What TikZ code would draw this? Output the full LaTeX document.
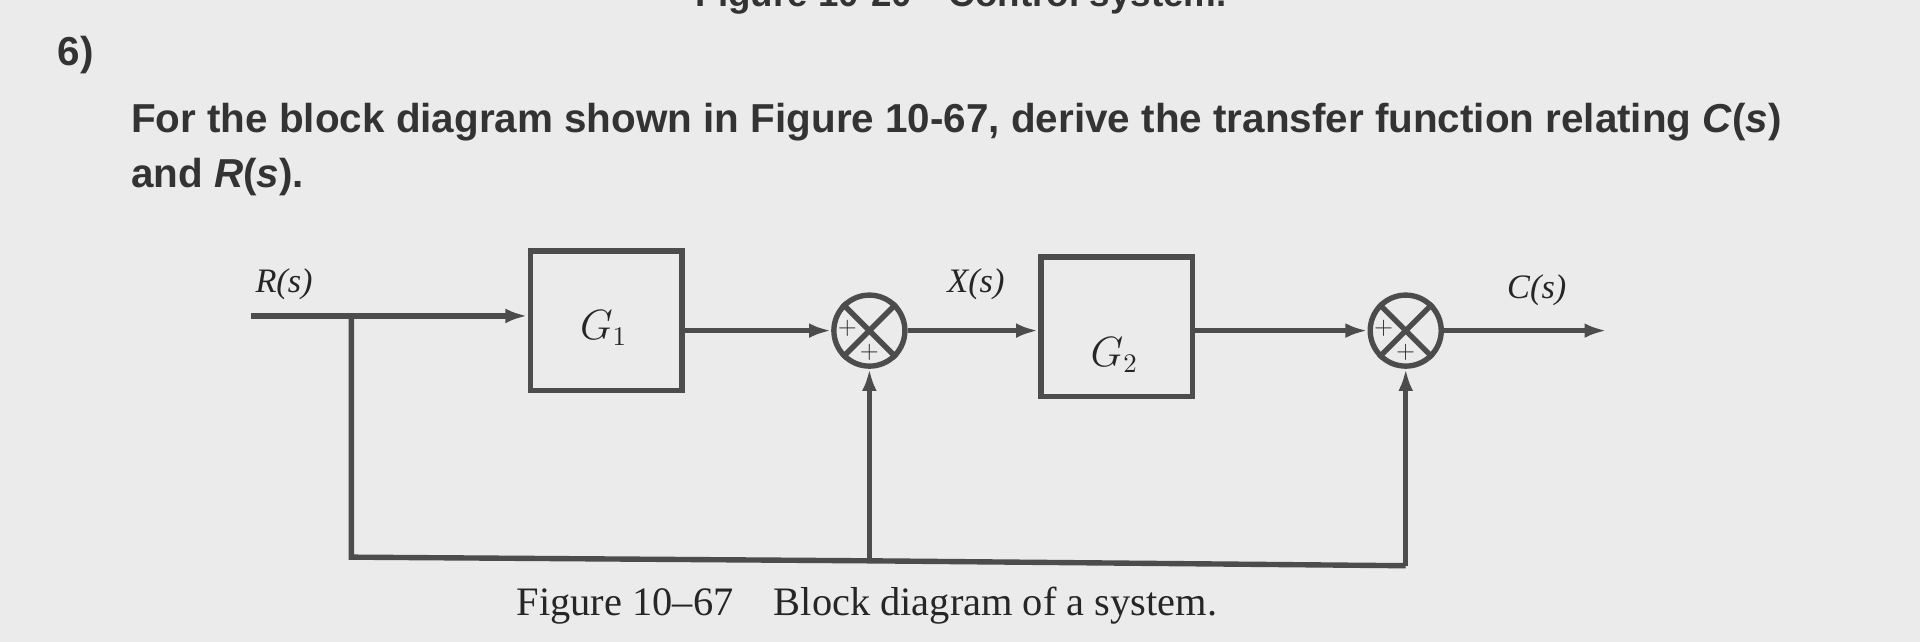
\documentclass[tikz,border=0pt]{standalone}
\usepackage{fontspec}
\setmainfont{Liberation Serif}
\newfontfamily\qfont{Liberation Sans}
\usetikzlibrary{arrows.meta}
\begin{document}
\begin{tikzpicture}[x=0.5pt,y=-0.5pt,
  ln/.style={draw=black!70,line width=2.2pt},
  arr/.style={ln,-{Latex[length=9pt,width=6pt]}},
  blk/.style={draw=black!70,line width=2.2pt,minimum width=62pt,minimum height=57pt,inner sep=0},
  sum/.style={circle,draw=black!70,line width=2.2pt,minimum size=29pt,inner sep=0},
  lab/.style={font=\fontsize{14}{14}\selectfont\itshape,text=black!85},
  q/.style={font=\qfont\bfseries\fontsize{16.5}{18}\selectfont,text=black!80,anchor=west}]
\useasboundingbox[fill=black!8] (0,0) rectangle (1568,524);
\node[font=\qfont\bfseries\fontsize{15}{15}\selectfont,text=black!80] (top) at (785,-2) {Figure 10-20\quad Control system.};
\node[q] (six) at (40,45) {6)};
\node[q] (l1) at (100,100) {For the block diagram shown in Figure 10-67, derive the transfer function relating \textit{C}(\textit{s})};
\node[q] (l2) at (100,145) {and \textit{R}(\textit{s}).};
\coordinate (in) at (205,258);
\node[blk] (g1) at (495,262) {};
\node[lab,font=\fontsize{16}{16}\selectfont] at (493,268) {$G_1$};
\node[blk] (g2) at (912,267) {};
\node[lab,font=\fontsize{16}{16}\selectfont] at (910,290) {$G_2$};
\node[sum] (s1) at (710,270) {};
\node[sum] (s2) at (1148,270) {};
\foreach \s in {s1,s2}{
  \draw[ln] (\s.north west)--(\s.south east) (\s.north east)--(\s.south west);
  \node[font=\fontsize{10}{10}\selectfont,text=black!80] at ([xshift=-9pt,yshift=1pt]\s.center) {$+$};
  \node[font=\fontsize{10}{10}\selectfont,text=black!80] at ([yshift=-9pt]\s.center) {$+$};}
\coordinate (out) at (1312,270);
\coordinate (br) at (287,258);
\coordinate (bl) at (287,455);
\coordinate (bm) at (710,458);
\coordinate (brr) at (1148,462);
\draw[arr] (in) -- (in -| g1.west);
\draw[arr] (g1.east |- s1) -- (s1.west);
\draw[arr] (s1.east) -- (g2.west |- s1);
\draw[arr] (g2.east |- s2) -- (s2.west);
\draw[arr] (s2.east) -- (out);
\draw[ln] (br) -- (bl) -- (bm) -- (brr);
\draw[arr] (bm) -- (s1.south);
\draw[arr] (brr) -- (s2.south);
\node[lab] at (232,232) {R(s)};
\node[lab] at (797,232) {X(s)};
\node[lab] at (1255,237) {C(s)};
\node[font=\fontsize{16.5}{16}\selectfont,text=black!85] (cap) at (708,495) {Figure 10--67\quad Block diagram of a system.};
\end{tikzpicture}
\end{document}
